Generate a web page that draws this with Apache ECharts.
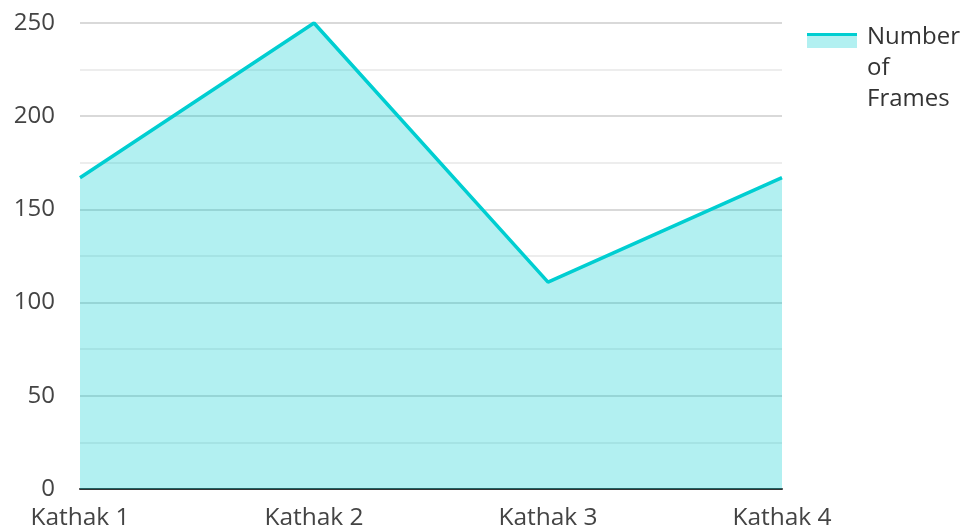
<!DOCTYPE html>
<html>
<head>
<meta charset="utf-8">
<script src="https://cdn.jsdelivr.net/npm/echarts@6/dist/echarts.min.js"></script>
<style>
  html, body { margin: 0; padding: 0; background: #fff; }
  #chart { width: 968px; height: 531px; }
</style>
</head>
<body>
<div id="chart"></div>
<script>
var categories = ['Kathak 1', 'Kathak 2', 'Kathak 3', 'Kathak 4'];
var frames = [167, 250, 111, 167];
var seriesName = 'Number of Frames';

var myChart = echarts.init(document.getElementById('chart'));
var option = {
    animation: false,
    textStyle: { fontFamily: 'Open Sans' },
    grid: { left: 80, right: 186, top: 23, bottom: 41 },
    legend: {
        left: 807,
        top: 17,
        orient: 'vertical',
        icon: 'rect',
        itemWidth: 50,
        itemHeight: 14,
        itemStyle: { opacity: 0 },
        formatter: function () { return 'Number\nof\nFrames'; },
        textStyle: { fontSize: 24, color: '#333', lineHeight: 31, padding: [0, 0, 0, 0] }
    },
    // legend swatch: line over a filled area
    graphic: [{
        type: 'rect',
        left: 807,
        top: 35,
        shape: { width: 50, height: 13 },
        style: { fill: 'rgba(0,206,209,0.3)' }
    }, {
        type: 'rect',
        left: 807,
        top: 33,
        shape: { width: 50, height: 3 },
        style: { fill: '#00CED1' }
    }],
    xAxis: {
        type: 'category',
        data: categories,
        boundaryGap: false,
        axisTick: { show: false },
        axisLine: { lineStyle: { color: '#333', width: 2 } },
        axisLabel: { color: '#444', fontSize: 24.5, margin: 17 }
    },
    yAxis: {
        type: 'value',
        min: 0,
        max: 250,
        interval: 50,
        axisLine: { show: false },
        axisTick: { show: false },
        axisLabel: { color: '#444', fontSize: 24, margin: 25 },
        splitLine: { lineStyle: { color: '#ccc', width: 1.5 } },
        minorTick: { show: false, splitNumber: 2 },
        minorSplitLine: { show: true, lineStyle: { color: '#e8e8e8', width: 1.5 } }
    },
    series: [{
        name: seriesName,
        type: 'line',
        data: frames,
        symbol: 'none',
        lineStyle: { color: '#00CED1', width: 3.5 },
        itemStyle: { color: '#00CED1' },
        areaStyle: { color: 'rgba(0,206,209,0.3)', opacity: 1 }
    }]
};
myChart.setOption(option);
</script>
</body>
</html>
